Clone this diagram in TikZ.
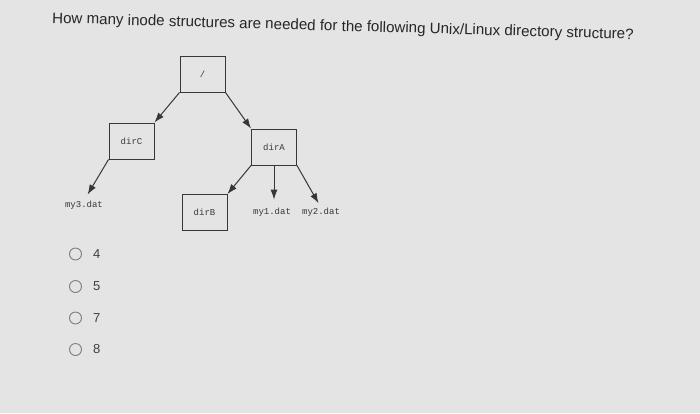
\documentclass[tikz,border=0pt]{standalone}
\usepackage{fontspec}
\setmainfont{Liberation Sans}
\newfontfamily\boxfont{Liberation Mono}
\usetikzlibrary{arrows.meta}
\definecolor{screen}{RGB}{228,228,228}
\definecolor{ink}{RGB}{55,55,55}
\definecolor{ring}{RGB}{125,125,125}
\tikzset{
  dirbox/.style={draw=ink, line width=0.9pt, minimum width=45pt, minimum height=36pt, inner sep=0pt, text=ink, font=\boxfont\fontsize{9}{10}\selectfont},
  filelbl/.style={inner sep=0pt, text=ink, font=\boxfont\fontsize{9}{10}\selectfont},
  link/.style={draw=ink, line width=1pt, -{Latex[length=10pt,width=7pt]}},
  radio/.style={circle, draw=ring, line width=0.9pt, minimum size=12pt, inner sep=0pt},
  answer/.style={anchor=west, inner sep=0pt, text=black!75, font=\fontsize{13}{15}\selectfont}
}
\begin{document}
\begin{tikzpicture}[x=1pt, y=-1pt]
\fill[screen] (0,0) rectangle (700,413);
\useasboundingbox (0,0) rectangle (700,413);
% question
\node[anchor=base west, rotate=-1.6, inner sep=0pt, text=black!85, font=\fontsize{15.1}{18}\selectfont] (question) at (52,23) {How many inode structures are needed for the following Unix/Linux directory structure?};
% directory tree
\node[dirbox] (root) at (202.5,74) {/};
\node[dirbox] (dirC) at (131.5,141) {dirC};
\node[dirbox] (dirA) at (274,147) {dirA};
\node[dirbox] (dirB) at (204.5,212.5) {dirB};
\node[filelbl] (my3) at (84,205) {my3.dat};
\node[filelbl] (my1) at (272,212) {my1.dat};
\node[filelbl] (my2) at (321,212) {my2.dat};
\draw[link] (root.south west) -- (dirC.north east);
\draw[link] (root.south east) -- (dirA.north west);
\draw[link, shorten >=7pt] (dirC.south west) -- (my3.north);
\draw[link] (dirA.south west) -- (dirB.north east);
\draw[link, shorten >=8pt] (dirA.south) -- (dirA.south |- my1.north);
\draw[link, shorten >=5pt] (dirA.south east) -- (my2.north);
% answers
\node[radio] (c1) at (75.5,254) {};
\node[radio] (c2) at (75.5,286.5) {};
\node[radio] (c3) at (75.5,318) {};
\node[radio] (c4) at (75.5,349.5) {};
\node[answer] (a1) at (93,254) {4};
\node[answer] (a2) at (93,286.5) {5};
\node[answer] (a3) at (93,318) {7};
\node[answer] (a4) at (93,349.5) {8};
\end{tikzpicture}
\end{document}
